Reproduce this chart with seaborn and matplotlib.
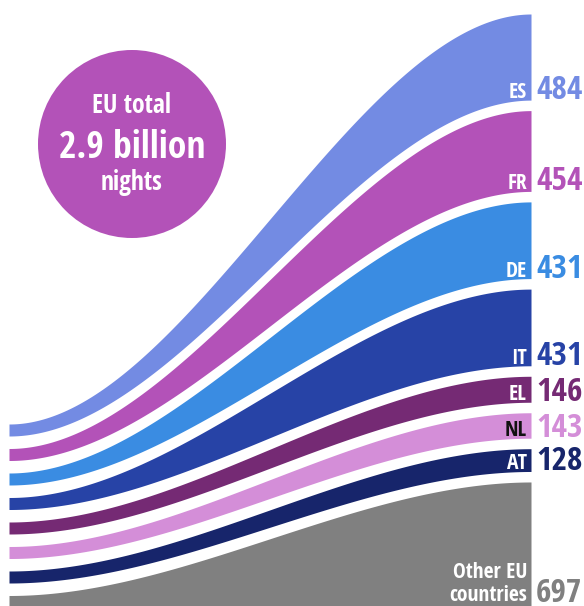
import numpy as np
import matplotlib
matplotlib.use("Agg")
import matplotlib.pyplot as plt
from matplotlib.patches import Circle
import seaborn as sns

# ================== Data ==================
countries = ["ES", "FR", "DE", "IT", "EL", "NL", "AT", "Other EU\ncountries"]
nights = [484, 454, 431, 431, 146, 143, 128, 697]  # million nights
value_labels = ["484", "454", "431", "431", "146", "143", "128", "697"]
colors = ["#738be3", "#b352b8", "#3a8ce2", "#2743a6",
          "#752a74", "#d48ed8", "#17256b", "#808080"]
code_colors = ["white", "white", "white", "white",
               "white", "#111111", "white", "white"]
total_text = ["EU total", "2.9 billion", "nights"]

# ================== Layout (pixels) ==================
W, H = 584, 606
x_left, x_right = 9, 531
left_top, left_pitch, left_thick = 424, 24.5, 12
right_top, right_bottom, right_gap = 14, 606, 10.5

sns.set_theme(style="white")
# condensed bold face, close to the original
plt.rcParams['font.family'] = ['Open Sans Condensed', 'PT Sans Narrow', 'DejaVu Sans']

fig = plt.figure(figsize=(W / 100, H / 100), dpi=100)
ax = fig.add_axes([0, 0, 1, 1])
ax.set_xlim(0, W)
ax.set_ylim(H, 0)
ax.axis("off")

# scale for right side so the stack fills the height
scale = (right_bottom - right_top - right_gap * (len(nights) - 1)) / sum(nights)

x = np.linspace(x_left, x_right, 400)
t = (x - x_left) / (x_right - x_left)
s = 3 * t ** 2 - 2 * t ** 3  # smoothstep

r_top = right_top
for i, (name, v, col) in enumerate(zip(countries, nights, colors)):
    l_top = left_top + i * left_pitch
    l_bot = l_top + left_thick
    r_bot = r_top + v * scale
    top = l_top + (r_top - l_top) * s
    bot = l_bot + (r_bot - l_bot) * s
    ax.fill_between(x, top, bot, color=col, lw=0)

    # labels sit on the band bottom, kept inside the picture
    base = min(r_bot, H - 3)
    # country code inside the band
    ax.text(x_right - 4, base - 2, name, ha="right", va="baseline",
            color=code_colors[i], fontsize=15.5, fontweight="bold",
            linespacing=1.12)
    # value label right of band
    ax.text(x_right + 5, base - 1, value_labels[i], ha="left", va="baseline",
            color=col, fontsize=24, fontweight="bold")
    r_top = r_bot + right_gap

# total bubble
cx, cy, rad = 132, 144, 94
ax.add_patch(Circle((cx, cy), rad, color=colors[1], lw=0))
ax.text(cx, 113, total_text[0], ha="center", va="baseline", color="white",
        fontsize=18.5, fontweight="bold")
ax.text(cx, 158, total_text[1], ha="center", va="baseline", color="white",
        fontsize=27, fontweight="bold")
ax.text(cx, 190, total_text[2], ha="center", va="baseline", color="white",
        fontsize=18.5, fontweight="bold")

fig.savefig("out.png", dpi=100)
